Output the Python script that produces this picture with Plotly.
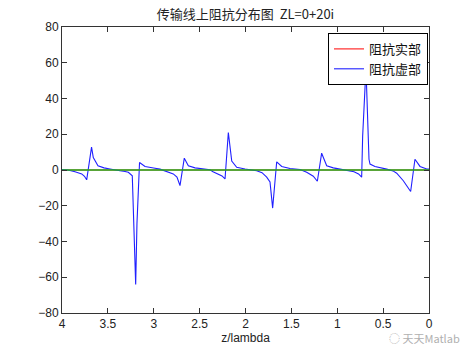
import plotly.graph_objects as go

# z/lambda positions and imaginary part of impedance
z_vals = [4.000, 3.935, 3.858, 3.785, 3.755, 3.731, 3.678, 3.659, 3.608, 3.542, 3.477, 3.390,
          3.368, 3.313, 3.277, 3.234, 3.212, 3.197, 3.183, 3.155, 3.095, 3.041, 2.986, 2.932,
          2.859, 2.787, 2.747, 2.714, 2.667, 2.623, 2.550, 2.474, 2.387,
          2.354, 2.296, 2.256, 2.223, 2.187, 2.150, 2.096, 2.005, 1.929,
          1.878, 1.820, 1.769, 1.733, 1.704, 1.660, 1.605, 1.515, 1.406,
          1.333, 1.261, 1.217, 1.170, 1.115, 1.043, 0.970, 0.883,
          0.817, 0.768, 0.734, 0.723, 0.687, 0.654, 0.643, 0.589, 0.534, 0.461,
          0.392, 0.352, 0.280, 0.200, 0.153, 0.098, 0.025, 0.000]
imag_vals = [0.3, 0.0, -1.0, -2.2, -3.5, -5.5, 12.8, 7.0, 2.4, 1.2, 0.6, 0.1,
             -0.4, -0.8, -1.3, -3.2, -44.0, -64.0, -30.0, 4.2, 2.0, 1.3, 1.0, 0.5,
             -0.8, -2.2, -4.0, -8.7, 6.6, 2.4, 1.2, 0.6, 0.1,
             -1.0, -2.2, -3.3, -5.0, 21.0, 5.0, 1.5, 0.6, 0.1,
             -0.4, -1.5, -4.0, -6.7, -21.3, 4.6, 2.0, 0.8, 0.3,
             -1.3, -3.5, -6.3, 9.4, 2.4, 1.2, 0.5, -0.2,
             -1.0, -2.2, -4.0, 19.0, 57.0, 6.0, 3.3, 2.0, 1.5, 0.5,
             -0.5, -1.8, -6.0, -12.0, 6.0, 2.0, 0.6, 0.5]
real_vals = [0.0 for _ in z_vals]
zero_line = [0.0 for _ in z_vals]

title_text = "传输线上阻抗分布图  ZL=0+20i"
legend_names = ["阻抗实部", "阻抗虚部"]
x_ticks = [4, 3.5, 3, 2.5, 2, 1.5, 1, 0.5, 0]
y_ticks = [-80, -60, -40, -20, 0, 20, 40, 60, 80]

cjk = "Noto Sans CJK SC, Liberation Sans, sans-serif"
lat = "Liberation Sans, Arial, sans-serif"

fig = go.Figure()
fig.add_trace(go.Scatter(x=z_vals, y=real_vals, mode="lines", name=legend_names[0],
                         line=dict(color="#ff0000", width=1)))
fig.add_trace(go.Scatter(x=z_vals, y=imag_vals, mode="lines", name=legend_names[1],
                         line=dict(color="#2020ff", width=1.1)))
fig.add_trace(go.Scatter(x=z_vals, y=zero_line, mode="lines", showlegend=False,
                         line=dict(color="#20b020", width=1.5)))

fig.update_layout(
    width=474, height=354,
    margin=dict(l=62, r=45, t=27, b=39),
    paper_bgcolor="white", plot_bgcolor="white",
    title=dict(text=title_text, x=(62 + 429) / 2 / 474, xanchor="center",
               y=1 - 14 / 354, yanchor="middle",
               font=dict(family=cjk, size=13, color="#222222")),
    legend=dict(x=1 - 1 / 367, y=1 - 6 / 288, xanchor="right", yanchor="top",
                bgcolor="white", bordercolor="#000000", borderwidth=1,
                font=dict(family=cjk, size=13, color="#111111"),
                tracegroupgap=0, itemwidth=30),
    showlegend=True,
)
fig.update_xaxes(range=[4, 0], tickvals=x_ticks, ticktext=[str(t) for t in x_ticks],
                 ticks="inside", ticklen=5, tickcolor="#333333", mirror="ticks",
                 showline=True, linecolor="#333333", linewidth=1, showgrid=False,
                 zeroline=False,
                 tickfont=dict(family=lat, size=12, color="#222222"),
                 title=dict(text="z/lambda", standoff=2,
                            font=dict(family=lat, size=12, color="#222222")))
fig.update_yaxes(range=[-80, 80], tickvals=y_ticks,
                 ticks="inside", ticklen=5, tickcolor="#333333", mirror="ticks",
                 showline=True, linecolor="#333333", linewidth=1, showgrid=False,
                 zeroline=False,
                 tickfont=dict(family=lat, size=12, color="#222222"))

fig.add_annotation(text="◌ 天天Matlab", xref="paper", yref="paper",
                   x=(462 - 62) / 367, y=-(340 - 315) / 288,
                   xanchor="right", yanchor="middle", showarrow=False,
                   font=dict(family=cjk, size=11, color="#b0b0b0"))

fig.write_html("out.html")
